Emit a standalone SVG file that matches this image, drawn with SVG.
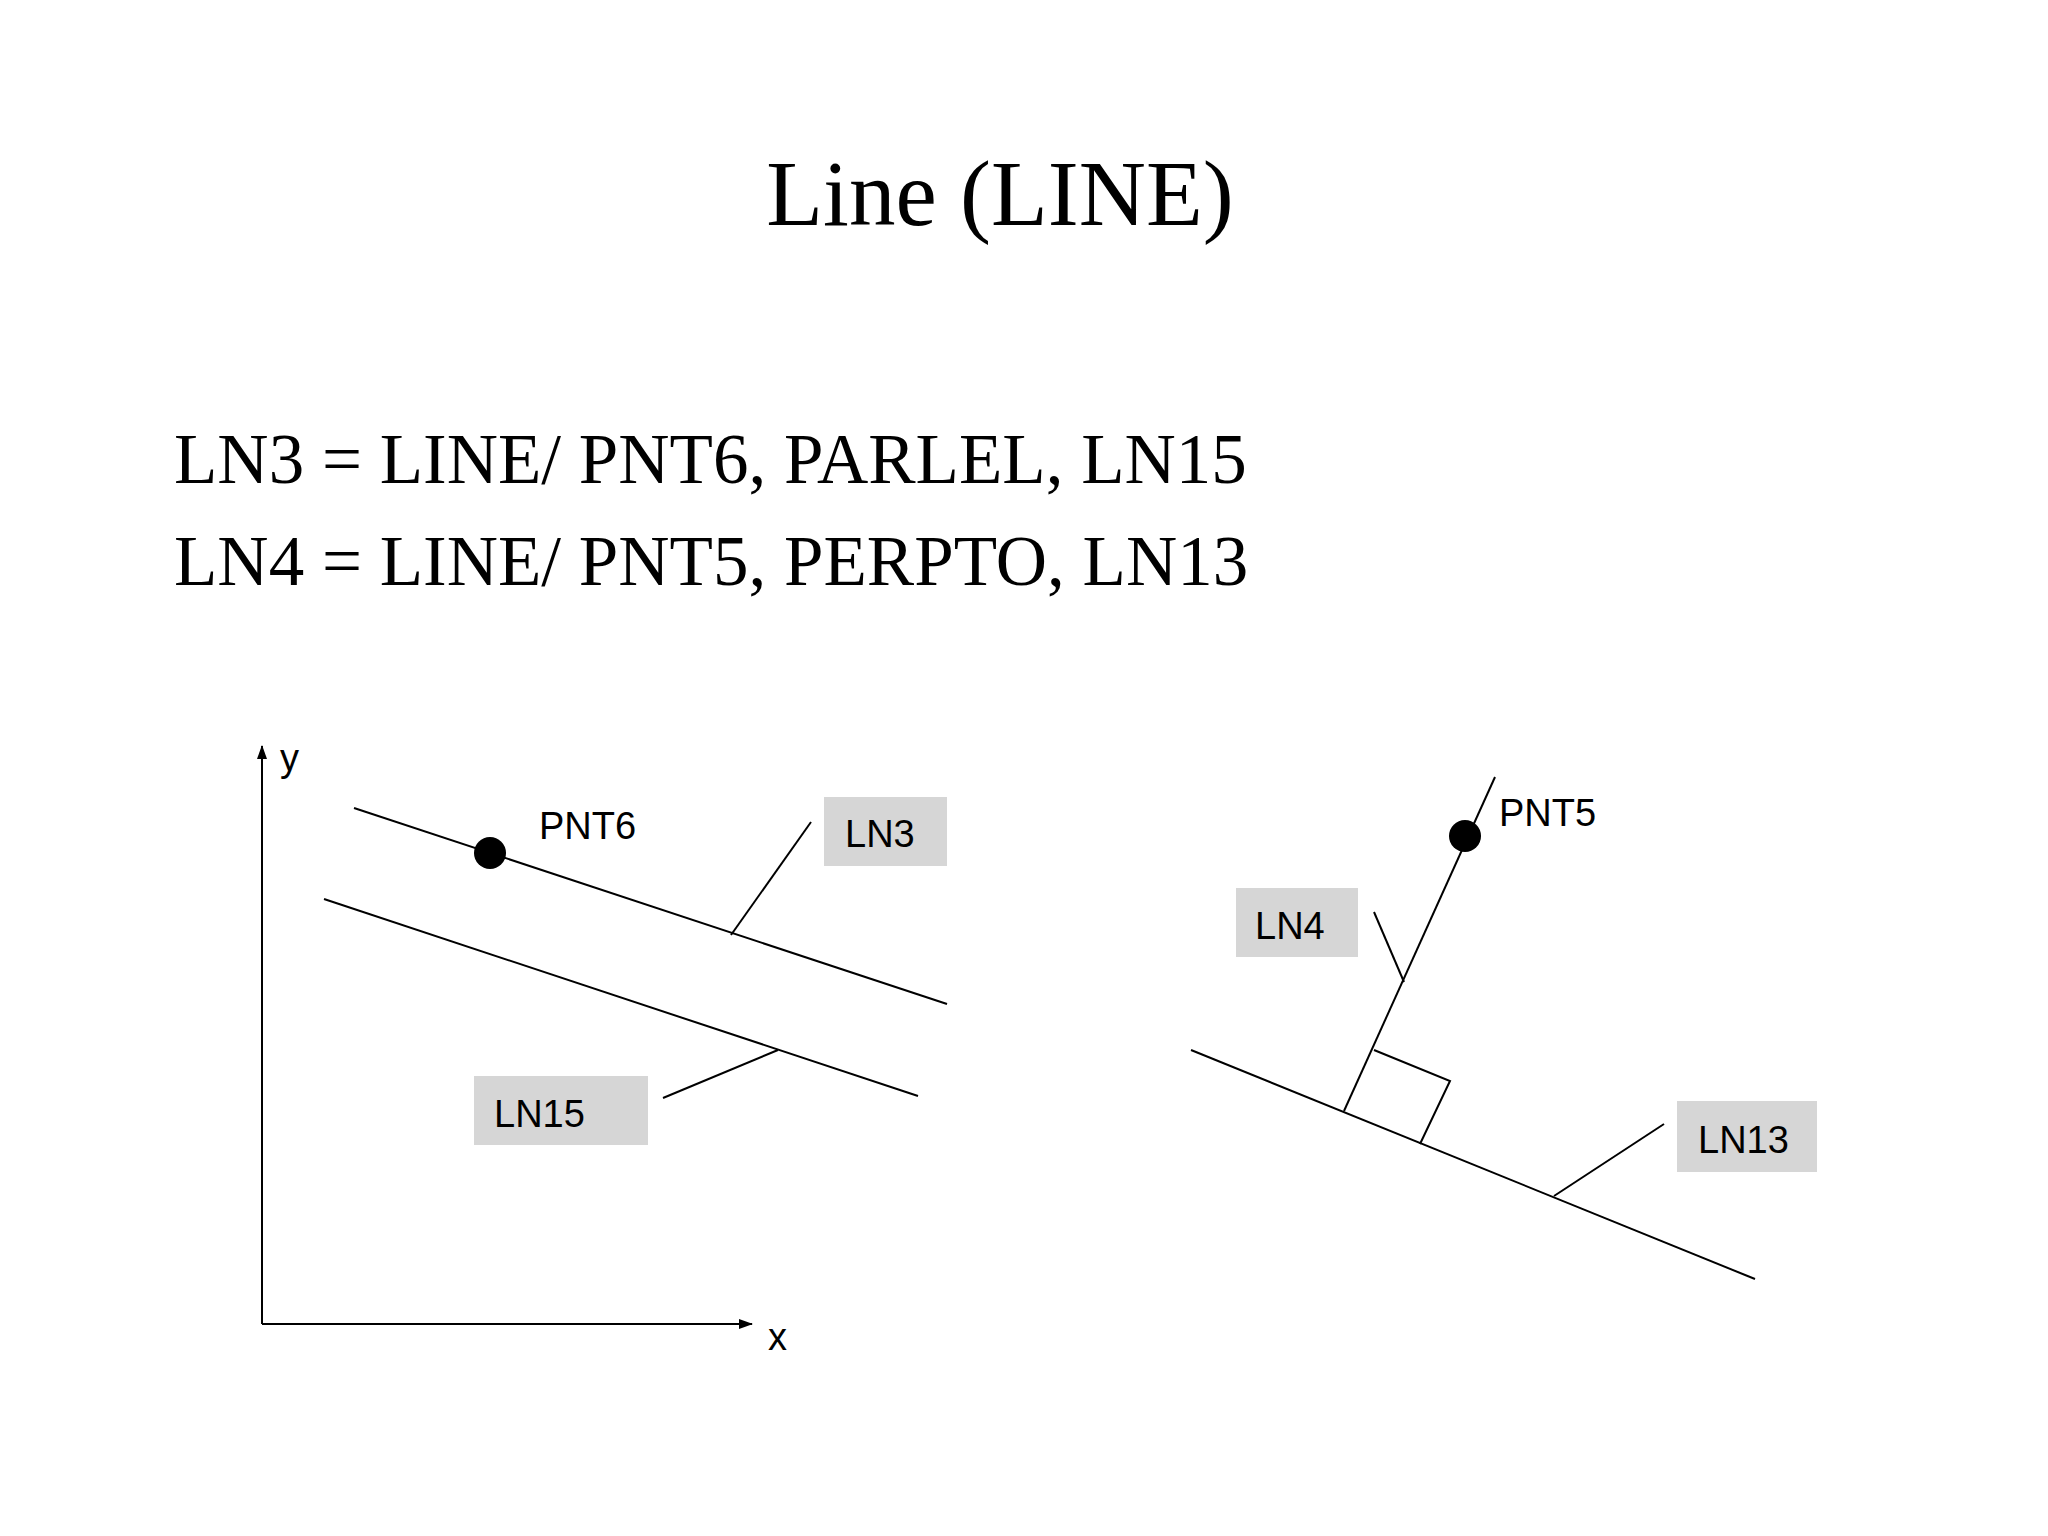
<svg xmlns="http://www.w3.org/2000/svg" width="2048" height="1536" viewBox="0 0 2048 1536">
<style>
.ln{stroke:#000;stroke-width:2;fill:none}
.box{fill:#d6d6d6}
.lbl{font-family:"Liberation Sans",Arial,sans-serif;font-size:38px;fill:#000}
.ser{font-family:"Liberation Serif","Times New Roman",serif;fill:#000}
</style>
<defs>
<marker id="ah" markerWidth="14" markerHeight="12" refX="13" refY="6" orient="auto" markerUnits="userSpaceOnUse"><path d="M0,1 L14,6 L0,11 Z" fill="#000"/></marker>
</defs>
<rect width="2048" height="1536" fill="#fff"/>
<text class="ser" x="1000" y="225" font-size="93" text-anchor="middle">Line (LINE)</text>
<text class="ser" x="174" y="483" font-size="71">LN3 = LINE/ PNT6, PARLEL, LN15</text>
<text class="ser" x="174" y="585" font-size="71">LN4 = LINE/ PNT5, PERPTO, LN13</text>
<g id="connectors">
<line class="ln" x1="262" y1="1324" x2="262" y2="746" marker-end="url(#ah)"/>
<line class="ln" x1="262" y1="1324" x2="752" y2="1324" marker-end="url(#ah)"/>
<line class="ln" x1="354" y1="808" x2="947" y2="1004"/>
<line class="ln" x1="324" y1="899" x2="918" y2="1096"/>
<line class="ln" x1="731" y1="935" x2="811" y2="822"/>
<line class="ln" x1="663" y1="1098" x2="778" y2="1050"/>
<line class="ln" x1="1191" y1="1050" x2="1755" y2="1279"/>
<line class="ln" x1="1495" y1="777" x2="1344" y2="1111"/>
<line class="ln" x1="1374" y1="912" x2="1404" y2="982"/>
<polyline class="ln" points="1374,1050 1450,1081 1420,1144"/>
<line class="ln" x1="1554" y1="1196" x2="1664" y2="1124"/>
</g>
<text class="lbl" x="280" y="771">y</text>
<text class="lbl" x="768" y="1350">x</text>
<g id="PNT6"><circle cx="490" cy="853" r="16" fill="#000"/><text class="lbl" x="539" y="839">PNT6</text></g>
<g id="LN3"><rect class="box" x="824" y="797" width="123" height="69"/><text class="lbl" x="845" y="847">LN3</text></g>
<g id="LN15"><rect class="box" x="474" y="1076" width="174" height="69"/><text class="lbl" x="494" y="1127">LN15</text></g>
<g id="PNT5"><circle cx="1465" cy="836" r="16" fill="#000"/><text class="lbl" x="1499" y="826">PNT5</text></g>
<g id="LN4"><rect class="box" x="1236" y="888" width="122" height="69"/><text class="lbl" x="1255" y="939">LN4</text></g>
<g id="LN13"><rect class="box" x="1677" y="1101" width="140" height="71"/><text class="lbl" x="1698" y="1153">LN13</text></g>
</svg>
